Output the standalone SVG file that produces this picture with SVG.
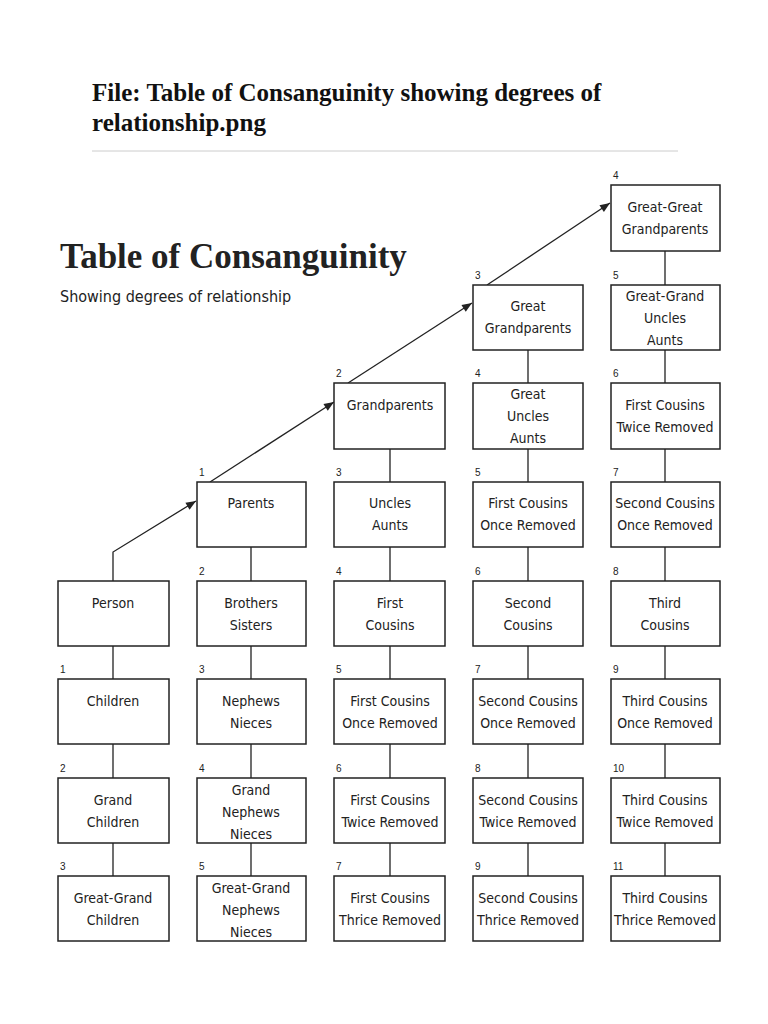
<svg xmlns="http://www.w3.org/2000/svg" width="768" height="1024" viewBox="0 0 768 1024">
<style>
.b{fill:#fff;stroke:#222;stroke-width:1.5}
.t{font-family:"DejaVu Sans Condensed","Liberation Sans",sans-serif;font-stretch:condensed;font-size:14px;fill:#222;text-anchor:middle}
.n{font-family:"Liberation Sans",sans-serif;font-size:10px;fill:#222}
.c{stroke:#222;stroke-width:1.3;fill:none}
</style>
<defs><marker id="a" viewBox="0 0 10 10" refX="10" refY="5" markerWidth="12" markerHeight="10" orient="auto" markerUnits="userSpaceOnUse"><path d="M0,1 L10,5 L0,9 z" fill="#222"/></marker></defs>
<rect width="768" height="1024" fill="#fff"/>
<text x="92" y="101" font-family="Liberation Serif,serif" font-size="25" font-weight="bold" fill="#111">File: Table of Consanguinity showing degrees of</text>
<text x="92" y="131" font-family="Liberation Serif,serif" font-size="25" font-weight="bold" fill="#111">relationship.png</text>
<line x1="92" y1="151" x2="678" y2="151" stroke="#ccc" stroke-width="1"/>
<text x="60" y="268" font-family="Liberation Serif,serif" font-size="35" font-weight="bold" fill="#222">Table of Consanguinity</text>
<text x="60" y="302" font-family="DejaVu Sans Condensed,Liberation Sans,sans-serif" font-stretch="condensed" font-size="16" fill="#222">Showing degrees of relationship</text>
<g id="connectors">
<path class="c" d="M113,581 V552 L196,501" marker-end="url(#a)"/>
<path class="c" d="M210,482 L334,402" marker-end="url(#a)"/>
<path class="c" d="M348,383 L472,303" marker-end="url(#a)"/>
<path class="c" d="M487,285 L610,203" marker-end="url(#a)"/>
<path class="c" d="M113,646 V679 M113,744 V778 M113,843 V876"/>
<path class="c" d="M251,547 V581 M251,646 V679 M251,744 V778 M251,843 V876"/>
<path class="c" d="M390,449 V482 M390,547 V581 M390,646 V679 M390,744 V778 M390,843 V876"/>
<path class="c" d="M528,350 V383 M528,449 V482 M528,547 V581 M528,646 V679 M528,744 V778 M528,843 V876"/>
<path class="c" d="M665,251 V285 M665,350 V383 M665,449 V482 M665,547 V581 M665,646 V679 M665,744 V778 M665,843 V876"/>
</g>
<g id="person"><rect class="b" x="58" y="581" width="111" height="65"/><text class="t" x="113" y="608">Person</text></g>
<g id="children"><text class="n" x="60" y="673">1</text><rect class="b" x="58" y="679" width="111" height="65"/><text class="t" x="113" y="706">Children</text></g>
<g id="grandchildren"><text class="n" x="60" y="772">2</text><rect class="b" x="58" y="778" width="111" height="65"/><text class="t" x="113" y="805">Grand</text><text class="t" x="113" y="827">Children</text></g>
<g id="ggchildren"><text class="n" x="60" y="870">3</text><rect class="b" x="58" y="876" width="111" height="65"/><text class="t" x="113" y="903">Great-Grand</text><text class="t" x="113" y="925">Children</text></g>
<g id="parents"><text class="n" x="199" y="476">1</text><rect class="b" x="197" y="482" width="109" height="65"/><text class="t" x="251" y="508">Parents</text></g>
<g id="siblings"><text class="n" x="199" y="575">2</text><rect class="b" x="197" y="581" width="109" height="65"/><text class="t" x="251" y="608">Brothers</text><text class="t" x="251" y="630">Sisters</text></g>
<g id="nephews"><text class="n" x="199" y="673">3</text><rect class="b" x="197" y="679" width="109" height="65"/><text class="t" x="251" y="706">Nephews</text><text class="t" x="251" y="728">Nieces</text></g>
<g id="gnephews"><text class="n" x="199" y="772">4</text><rect class="b" x="197" y="778" width="109" height="65"/><text class="t" x="251" y="795">Grand</text><text class="t" x="251" y="817">Nephews</text><text class="t" x="251" y="839">Nieces</text></g>
<g id="ggnephews"><text class="n" x="199" y="870">5</text><rect class="b" x="197" y="876" width="109" height="65"/><text class="t" x="251" y="893">Great-Grand</text><text class="t" x="251" y="915">Nephews</text><text class="t" x="251" y="937">Nieces</text></g>
<g id="grandparents"><text class="n" x="336" y="377">2</text><rect class="b" x="334" y="383" width="111" height="66"/><text class="t" x="390" y="410">Grandparents</text></g>
<g id="uncles"><text class="n" x="336" y="476">3</text><rect class="b" x="334" y="482" width="111" height="65"/><text class="t" x="390" y="508">Uncles</text><text class="t" x="390" y="530">Aunts</text></g>
<g id="fc"><text class="n" x="336" y="575">4</text><rect class="b" x="334" y="581" width="111" height="65"/><text class="t" x="390" y="608">First</text><text class="t" x="390" y="630">Cousins</text></g>
<g id="fc1"><text class="n" x="336" y="673">5</text><rect class="b" x="334" y="679" width="111" height="65"/><text class="t" x="390" y="706">First Cousins</text><text class="t" x="390" y="728">Once Removed</text></g>
<g id="fc2"><text class="n" x="336" y="772">6</text><rect class="b" x="334" y="778" width="111" height="65"/><text class="t" x="390" y="805">First Cousins</text><text class="t" x="390" y="827">Twice Removed</text></g>
<g id="fc3"><text class="n" x="336" y="870">7</text><rect class="b" x="334" y="876" width="111" height="65"/><text class="t" x="390" y="903">First Cousins</text><text class="t" x="390" y="925">Thrice Removed</text></g>
<g id="ggp"><text class="n" x="475" y="279">3</text><rect class="b" x="473" y="285" width="110" height="65"/><text class="t" x="528" y="311">Great</text><text class="t" x="528" y="333">Grandparents</text></g>
<g id="gua"><text class="n" x="475" y="377">4</text><rect class="b" x="473" y="383" width="110" height="66"/><text class="t" x="528" y="399">Great</text><text class="t" x="528" y="421">Uncles</text><text class="t" x="528" y="443">Aunts</text></g>
<g id="fc1b"><text class="n" x="475" y="476">5</text><rect class="b" x="473" y="482" width="110" height="65"/><text class="t" x="528" y="508">First Cousins</text><text class="t" x="528" y="530">Once Removed</text></g>
<g id="sc"><text class="n" x="475" y="575">6</text><rect class="b" x="473" y="581" width="110" height="65"/><text class="t" x="528" y="608">Second</text><text class="t" x="528" y="630">Cousins</text></g>
<g id="sc1"><text class="n" x="475" y="673">7</text><rect class="b" x="473" y="679" width="110" height="65"/><text class="t" x="528" y="706">Second Cousins</text><text class="t" x="528" y="728">Once Removed</text></g>
<g id="sc2"><text class="n" x="475" y="772">8</text><rect class="b" x="473" y="778" width="110" height="65"/><text class="t" x="528" y="805">Second Cousins</text><text class="t" x="528" y="827">Twice Removed</text></g>
<g id="sc3"><text class="n" x="475" y="870">9</text><rect class="b" x="473" y="876" width="110" height="65"/><text class="t" x="528" y="903">Second Cousins</text><text class="t" x="528" y="925">Thrice Removed</text></g>
<g id="gggp"><text class="n" x="613" y="179">4</text><rect class="b" x="611" y="185" width="109" height="66"/><text class="t" x="665" y="212">Great-Great</text><text class="t" x="665" y="234">Grandparents</text></g>
<g id="ggua"><text class="n" x="613" y="279">5</text><rect class="b" x="611" y="285" width="109" height="65"/><text class="t" x="665" y="301">Great-Grand</text><text class="t" x="665" y="323">Uncles</text><text class="t" x="665" y="345">Aunts</text></g>
<g id="fc2b"><text class="n" x="613" y="377">6</text><rect class="b" x="611" y="383" width="109" height="66"/><text class="t" x="665" y="410">First Cousins</text><text class="t" x="665" y="432">Twice Removed</text></g>
<g id="sc1b"><text class="n" x="613" y="476">7</text><rect class="b" x="611" y="482" width="109" height="65"/><text class="t" x="665" y="508">Second Cousins</text><text class="t" x="665" y="530">Once Removed</text></g>
<g id="tc"><text class="n" x="613" y="575">8</text><rect class="b" x="611" y="581" width="109" height="65"/><text class="t" x="665" y="608">Third</text><text class="t" x="665" y="630">Cousins</text></g>
<g id="tc1"><text class="n" x="613" y="673">9</text><rect class="b" x="611" y="679" width="109" height="65"/><text class="t" x="665" y="706">Third Cousins</text><text class="t" x="665" y="728">Once Removed</text></g>
<g id="tc2"><text class="n" x="613" y="772">10</text><rect class="b" x="611" y="778" width="109" height="65"/><text class="t" x="665" y="805">Third Cousins</text><text class="t" x="665" y="827">Twice Removed</text></g>
<g id="tc3"><text class="n" x="613" y="870">11</text><rect class="b" x="611" y="876" width="109" height="65"/><text class="t" x="665" y="903">Third Cousins</text><text class="t" x="665" y="925">Thrice Removed</text></g>
</svg>
